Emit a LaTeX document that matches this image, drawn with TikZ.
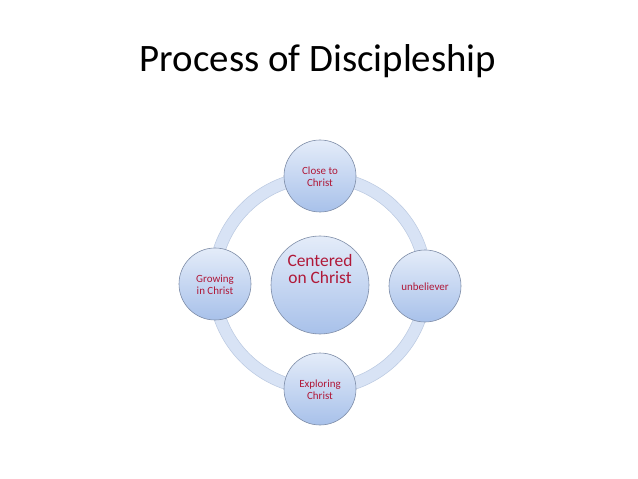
\documentclass[tikz,border=0pt]{standalone}
\usepackage{fontspec}
\setmainfont{Carlito}
\definecolor{txtred}{HTML}{B01838}
\definecolor{ringc}{HTML}{D8E3F5}
\definecolor{ringedge}{HTML}{B9C8E0}
\definecolor{topc}{HTML}{E4ECF9}
\definecolor{botc}{HTML}{A8C1EA}
\definecolor{edgec}{HTML}{7E8DA8}
\tikzset{
  bubble/.style={circle, draw=edgec, line width=0.6bp, top color=topc, bottom color=botc, inner sep=0pt},
  small/.style={bubble, minimum size=72bp},
  big/.style={bubble, minimum size=98bp},
  smalltxt/.style={text=txtred, font=\fontsize{11}{12}\selectfont, align=center},
  bigtxt/.style={text=txtred, font=\fontsize{17.5}{18}\selectfont, align=center}
}
\begin{document}
\begin{tikzpicture}[x=1bp,y=-1bp]
\useasboundingbox (0,0) rectangle (638,479);
\fill[white] (0,0) rectangle (638,479);
\node[font=\fontsize{39}{44}\selectfont, anchor=base, inner sep=0pt] (title) at (318,72) {Process of Discipleship};
\coordinate (c) at (320,283);
% ring
\draw[ringc, line width=12bp] (c) circle[radius=106];
\draw[ringedge, line width=0.5bp] (c) circle[radius=112];
\draw[ringedge, line width=0.5bp] (c) circle[radius=100];
% circles
\node[big] (center) at (320,285) {};
\node[small] (top) at (320,176) {};
\node[small] (right) at (425,286) {};
\node[small] (bottom) at (320,389) {};
\node[small] (left) at (215,284) {};
% texts
\node[bigtxt] (centertxt) at ([yshift=16bp]center.center) {Centered\\on Christ};
\node[smalltxt] (toptxt) at ([yshift=-1bp]top.center) {Close to\\Christ};
\node[smalltxt] (righttxt) at ([yshift=-1bp]right.center) {unbeliever};
\node[smalltxt] (bottomtxt) at ([yshift=-1bp]bottom.center) {Exploring\\Christ};
\node[smalltxt] (lefttxt) at ([yshift=-1bp]left.center) {Growing\\in Christ};
\end{tikzpicture}
\end{document}
